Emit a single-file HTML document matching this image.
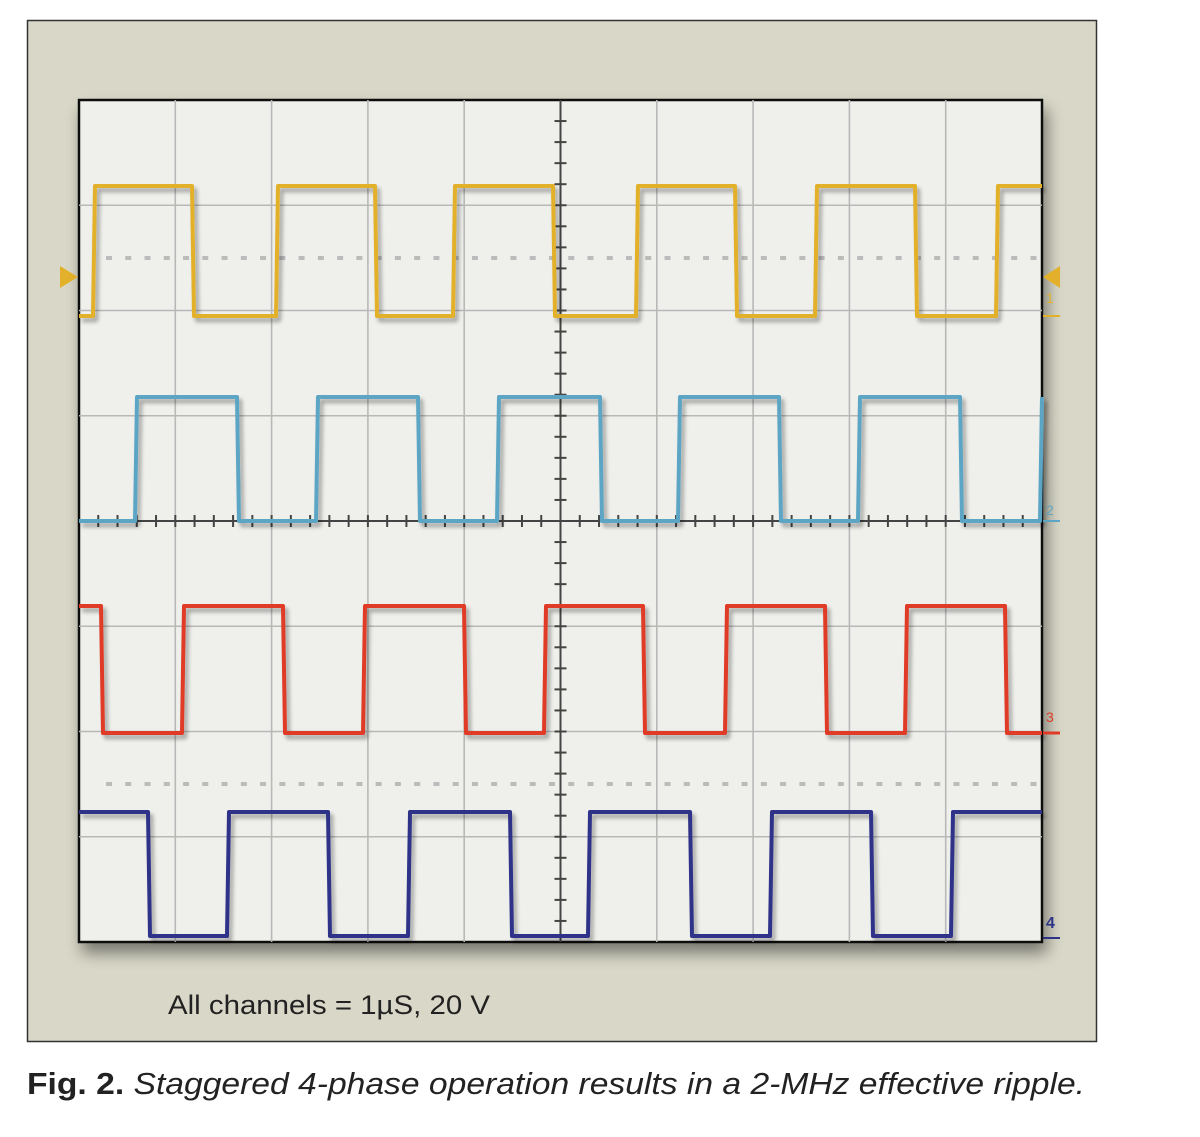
<!DOCTYPE html>
<html><head><meta charset="utf-8"><style>
body{margin:0;background:#fff;width:1200px;height:1137px;overflow:hidden}
svg{display:block}
</style></head><body>
<svg id="s" width="1200" height="1137" xmlns="http://www.w3.org/2000/svg">
<defs>
<filter id="sh" x="-5%" y="-5%" width="110%" height="110%"><feGaussianBlur in="SourceAlpha" stdDeviation="2"/><feOffset dx="3" dy="4"/><feComponentTransfer><feFuncA type="linear" slope="0.35"/></feComponentTransfer><feMerge><feMergeNode/><feMergeNode in="SourceGraphic"/></feMerge></filter>
<filter id="bsh" x="-10%" y="-10%" width="120%" height="120%"><feGaussianBlur in="SourceAlpha" stdDeviation="8"/><feOffset dx="4" dy="10"/><feComponentTransfer><feFuncA type="linear" slope="0.45"/></feComponentTransfer><feMerge><feMergeNode/><feMergeNode in="SourceGraphic"/></feMerge></filter>
</defs>
<rect x="27.5" y="20.5" width="1069" height="1021" fill="#d9d8c8" stroke="#333" stroke-width="1.5"/>
<rect x="79" y="100" width="963" height="842" fill="#eff0ec" stroke="#111" stroke-width="2.5" filter="url(#bsh)"/>
<g id="grid" stroke="#b8b8b8" stroke-width="1.6"></g>
<g id="ax" stroke="#444" stroke-width="2"></g>
<g id="tr" fill="none" stroke-width="4" stroke-linejoin="round" filter="url(#sh)"></g>
<polygon points="60,266 60,288 78,277" fill="#e3b02b"/>
<polygon points="1060,266 1060,288 1043,277" fill="#e3b02b"/>
<text x="1046" y="303" font-family="Liberation Sans, sans-serif" font-size="14" fill="#e3b02b">1</text>
<line x1="1043" y1="316" x2="1060" y2="316" stroke="#e3b02b" stroke-width="2"/>
<text x="1046" y="515" font-family="Liberation Sans, sans-serif" font-size="14" fill="#5da5c4">2</text>
<line x1="1043" y1="521" x2="1060" y2="521" stroke="#5da5c4" stroke-width="2"/>
<text x="1046" y="722" font-family="Liberation Sans, sans-serif" font-size="14" fill="#e03a26">3</text>
<line x1="1043" y1="733" x2="1060" y2="733" stroke="#e03a26" stroke-width="3"/>
<text x="1046" y="928" font-family="Liberation Sans, sans-serif" font-size="16" font-weight="bold" fill="#2e3288">4</text>
<line x1="1043" y1="938" x2="1060" y2="938" stroke="#2e3288" stroke-width="2"/>
<text x="168" y="1014" font-family="Liberation Sans, sans-serif" font-size="27" fill="#222" textLength="322" lengthAdjust="spacingAndGlyphs">All channels = 1µS, 20 V</text>
<text x="27" y="1094" font-family="Liberation Sans, sans-serif" font-size="31" fill="#222" textLength="1058" lengthAdjust="spacingAndGlyphs"><tspan font-weight="bold">Fig. 2.</tspan><tspan font-style="italic"> Staggered 4-phase operation results in a 2-MHz effective ripple.</tspan></text>
</svg>
<script>
const NS="http://www.w3.org/2000/svg";
function el(p,t,a){const e=document.createElementNS(NS,t);for(const k in a)e.setAttribute(k,a[k]);p.appendChild(e);return e;}
const g=document.getElementById('grid'),ax=document.getElementById('ax'),tr=document.getElementById('tr');
const X0=79,X1=1042,Y0=100,Y1=942,dx=(X1-X0)/10,dy=(Y1-Y0)/8;
for(let i=1;i<10;i++){if(i==5)continue;const x=X0+i*dx;el(g,'line',{x1:x,y1:Y0,x2:x,y2:Y1});}
for(let j=1;j<8;j++){if(j==4)continue;const y=Y0+j*dy;el(g,'line',{x1:X0,y1:y,x2:X1,y2:y});}
// dotted lines
[258,784].forEach(y=>{for(let x=X0+30;x<X1;x+=dx/5){if(Math.abs(((x-X0)%dx))<5)continue;el(g,'rect',{x:x-3,y:y-2,width:6,height:4,fill:'#bbb',stroke:'none'});}});
const cx=X0+5*dx,cy=Y0+4*dy;
el(ax,'line',{x1:cx,y1:Y0,x2:cx,y2:Y1});el(ax,'line',{x1:X0,y1:cy,x2:X1,y2:cy});
for(let k=1;k<50;k++){const x=X0+k*dx/5;el(ax,'line',{x1:x,y1:cy-6,x2:x,y2:cy+6});}
for(let k=1;k<40;k++){const y=Y0+k*dy/5;el(ax,'line',{x1:cx-6,y1:y,x2:cx+6,y2:y});}
function sq(color,hi,lo,startHigh,edges){
 let y=startHigh?hi:lo,d=`M${X0} ${y}`;
 for(const e of edges){d+=` L${e} ${y}`;y=(y==hi)?lo:hi;d+=` L${e+2} ${y}`;}
 d+=` L${X1} ${y}`;el(tr,'path',{d:d,stroke:color});
}
sq('#e3b02b',186,316,false,[93,192,276,375,453,553,636,735,815,915,996]);
sq('#5da5c4',397,521,false,[135,237,316,418,497,600,678,779,858,960,1040]);
sq('#e03a26',606,733,true,[101,182,283,363,464,544,643,725,825,905,1005]);
sq('#2e3288',812,936,true,[148,227,328,408,510,588,690,770,871,951]);
</script>
</body></html>
